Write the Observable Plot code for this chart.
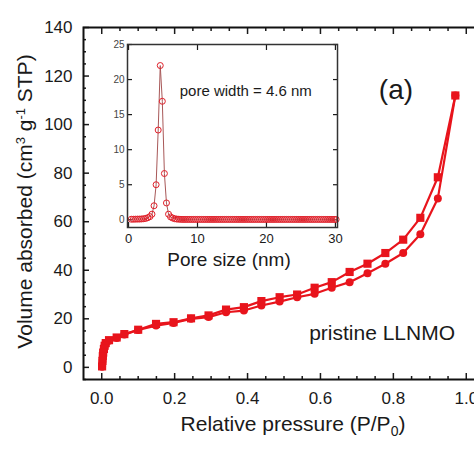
<!DOCTYPE html>
<html><head><meta charset="utf-8">
<script src="https://cdn.jsdelivr.net/npm/d3@7"></script>
<script src="https://cdn.jsdelivr.net/npm/@observablehq/plot@0.6"></script>
<style>
html,body{margin:0;padding:0;background:#fff;overflow:hidden;}
#wrap{position:relative;width:474px;height:474px;overflow:hidden;background:#fff;}
#main{position:absolute;left:0;top:0;width:484px;}
#inset{position:absolute;left:90px;top:30px;width:260px;}
#wrap svg{max-width:none !important;}
</style></head><body><div id="wrap"><div id="main"></div><div id="inset"></div></div>
<script>
// ---- main isotherm data ----
const adsP = [0.001,0.002,0.003,0.004,0.006,0.008,0.011,0.020,0.041,0.062,0.100,0.149,0.197,0.245,0.293,0.341,0.390,0.438,0.488,0.536,0.584,0.631,0.680,0.729,0.778,0.827,0.874,0.922,0.970];
const adsV = [0.3,2.5,4.5,6.0,7.5,8.8,9.9,11.0,12.1,13.5,15.4,17.2,18.3,20.0,20.7,22.7,23.4,25.5,27.1,28.9,30.3,32.8,35.1,38.8,42.7,47.1,54.8,69.6,112];
const desP = [0.970,0.922,0.874,0.827,0.778,0.729,0.680,0.631,0.584,0.536,0.488,0.438,0.390,0.341,0.293,0.245,0.197,0.149,0.100,0.062,0.041,0.020,0.011,0.008,0.006,0.004,0.003,0.002,0.001];
const desV = [112,78.3,61.6,52.6,47.1,42.7,39.3,35.1,32.8,30.0,28.9,27.3,24.8,23.8,21.4,20.2,18.6,17.9,15.5,13.7,12.3,11.2,10.0,8.9,7.6,6.1,4.6,2.6,0.4];

// ---- inset pore size distribution ----
const poreSize = [0.4,0.7,1.0,1.3,1.6,1.9,2.2,2.5,2.8,3.1,3.4,3.7,4.0,4.3,4.6,4.9,5.2,5.5,5.8,6.1,6.4,6.7,7.0,7.3,7.6,7.9,8.2,8.5,8.8,9.1,9.4,9.7,10.0,10.3,10.6,10.9,11.2,11.5,11.8,12.1,12.4,12.7,13.0,13.3,13.6,13.9,14.2,14.5,14.8,15.1,15.4,15.7,16.0,16.3,16.6,16.9,17.2,17.5,17.8,18.1,18.4,18.7,19.0,19.3,19.6,19.9,20.2,20.5,20.8,21.1,21.4,21.7,22.0,22.3,22.6,22.9,23.2,23.5,23.8,24.1,24.4,24.7,25.0,25.3,25.6,25.9,26.2,26.5,26.8,27.1,27.4,27.7,28.0,28.3,28.6,28.9,29.2,29.5,29.8,30.1];
const poreDist = [0.08,0.08,0.09,0.10,0.10,0.12,0.15,0.20,0.30,0.45,0.80,2.0,5.0,12.8,22.0,16.9,6.6,2.4,0.8,0.4,0.25,0.15,0.10,0.08,0.06,0.05,0.05,0.05,0.05,0.05,0.05,0.05,0.05,0.05,0.05,0.05,0.05,0.05,0.05,0.05,0.05,0.05,0.05,0.05,0.05,0.05,0.05,0.05,0.05,0.05,0.05,0.05,0.05,0.05,0.05,0.05,0.05,0.05,0.05,0.05,0.05,0.05,0.05,0.05,0.05,0.05,0.05,0.05,0.05,0.05,0.05,0.05,0.05,0.05,0.05,0.05,0.05,0.05,0.05,0.05,0.05,0.05,0.05,0.05,0.05,0.05,0.05,0.05,0.05,0.05,0.05,0.05,0.05,0.05,0.05,0.05,0.05,0.05,0.05,0.05];

// ---- ticks ----
const xMajor = [0,0.2,0.4,0.6,0.8,1.0];
const xTickLabels = ["0.0","0.2","0.4","0.6","0.8","1.0"];
const xMinor = [0.05,0.1,0.15,0.25,0.3,0.35,0.45,0.5,0.55,0.65,0.7,0.75,0.85,0.9,0.95];
const yMajor = [0,20,40,60,80,100,120,140];
const yTickLabels = ["0","20","40","60","80","100","120","140"];
const yMinor = [-5,5,10,15,25,30,35,45,50,55,65,70,75,85,90,95,105,110,115,125,130,135];
const insetX = [0,10,20,30];
const insetY = [0,5,10,15,20,25];

const annoMain = [{t:"(a)", x:0.807, y:114.4, s:28},{t:"pristine LLNMO", x:0.769, y:13.9, s:21}];
const annoInset = [{t:"pore width = 4.6 nm", x:17, y:18.3}];

const red = "#e8141c";
const ink = "#1a1a1a";
const font = "'Liberation Sans', Arial, sans-serif";

const ads = adsP.map((p,i)=>({p, v: adsV[i]}));
const des = desP.map((p,i)=>({p, v: desV[i]}));
const pore = poreSize.map((s,i)=>({s, d: poreDist[i]}));

const blank = () => "";
const main = Plot.plot({
  width: 484, height: 474,
  marginLeft: 83, marginRight: 0, marginTop: 27, marginBottom: 95,
  x: {domain: [-0.05, 1.05]},
  y: {domain: [-5, 140]},
  style: {fontFamily: font, color: ink, background: "transparent", overflow: "visible", maxWidth: "none"},
  marks: [
    Plot.axisX(xMinor, {anchor: "bottom", tickSize: -3, strokeWidth: 1.5, tickFormat: blank, label: null}),
    Plot.axisX(xMajor, {anchor: "bottom", tickSize: -6, strokeWidth: 1.5, tickFormat: blank, label: null}),
    Plot.axisX(xMajor, {anchor: "bottom", tickSize: 0, tickPadding: 12, fontSize: 17, fill: ink, tickFormat: d => xTickLabels[xMajor.indexOf(d)], label: null}),
    Plot.axisX(xMinor, {anchor: "top", tickSize: -3, strokeWidth: 1.5, tickFormat: blank, label: null}),
    Plot.axisX(xMajor, {anchor: "top", tickSize: -6, strokeWidth: 1.5, tickFormat: blank, label: null}),
    Plot.axisY(yMinor, {anchor: "left", tickSize: -3, strokeWidth: 1.5, tickFormat: blank, label: null}),
    Plot.axisY(yMajor, {anchor: "left", tickSize: -6, strokeWidth: 1.5, tickFormat: blank, label: null}),
    Plot.axisY(yMajor, {anchor: "left", tickSize: 0, tickPadding: 11, fontSize: 17, fill: ink, tickFormat: d => yTickLabels[yMajor.indexOf(d)], label: null}),
    Plot.line(ads, {x: "p", y: "v", stroke: red, strokeWidth: 2.2}),
    Plot.line(des, {x: "p", y: "v", stroke: red, strokeWidth: 2.2}),
    Plot.dot(ads, {x: "p", y: "v", r: 4, fill: red, symbol: "circle"}),
    Plot.dot(des, {x: "p", y: "v", r: 4.6, fill: red, symbol: "square"}),
    Plot.frame({stroke: "#111", strokeWidth: 2}),
    Plot.text(annoMain, {x: "x", y: "y", text: "t", fontSize: "s", fill: ink})
  ]
});
document.getElementById("main").appendChild(main);

const sm = d3.select(main);
const yt = sm.append("text").attr("transform", "translate(32,201.5) rotate(-90)")
  .attr("text-anchor", "middle").attr("font-size", 21).attr("font-family", font).attr("fill", ink);
yt.append("tspan").text("Volume absorbed (cm");
yt.append("tspan").attr("dy", -7).attr("font-size", 13).text("3");
yt.append("tspan").attr("dy", 7).text(" g");
yt.append("tspan").attr("dy", -7).attr("font-size", 13).text("-1");
yt.append("tspan").attr("dy", 7).text(" STP)");
const xt = sm.append("text").attr("x", 293).attr("y", 431)
  .attr("text-anchor", "middle").attr("font-size", 21).attr("font-family", font).attr("fill", ink);
xt.append("tspan").text("Relative pressure (P/P");
xt.append("tspan").attr("dy", 5).attr("font-size", 14).text("0");
xt.append("tspan").attr("dy", -5).text(")");

const inset = Plot.plot({
  width: 260, height: 245,
  marginLeft: 37, marginRight: 13, marginTop: 14, marginBottom: 48,
  x: {domain: [-0.15, 30.3]},
  y: {domain: [-1.1, 25]},
  style: {fontFamily: font, color: ink, background: "transparent", overflow: "visible", maxWidth: "none"},
  marks: [
    Plot.axisY(insetY, {anchor: "left", tickSize: -5, strokeWidth: 1.2, tickFormat: blank, label: null}),
    Plot.axisY(insetY, {anchor: "left", tickSize: 0, tickPadding: 3, fontSize: 10, fill: "#444", label: null}),
    Plot.axisY(insetY, {anchor: "right", tickSize: -5, strokeWidth: 1.2, tickFormat: blank, label: null}),
    Plot.axisX(insetX, {anchor: "bottom", tickSize: -5, strokeWidth: 1.2, tickFormat: blank, label: null}),
    Plot.axisX(insetX, {anchor: "bottom", tickSize: 0, tickPadding: 6, fontSize: 13, fill: ink, label: null}),
    Plot.axisX(insetX, {anchor: "top", tickSize: -5, strokeWidth: 1.2, tickFormat: blank, label: null}),
    Plot.line(pore, {x: "s", y: "d", stroke: "#a85858", strokeWidth: 1}),
    Plot.dot(pore, {x: "s", y: "d", r: 3, stroke: "#e0202a", strokeWidth: 1, fill: "none"}),
    Plot.frame({stroke: "#333", strokeWidth: 1.5}),
    Plot.text(annoInset, {x: "x", y: "y", text: "t", fontSize: 15, fill: ink})
  ]
});
document.getElementById("inset").appendChild(inset);
d3.select(inset).append("text").attr("x", 139).attr("y", 236)
  .attr("text-anchor", "middle").attr("font-size", 19).attr("font-family", font).attr("fill", ink)
  .text("Pore size (nm)");
</script></body></html>
